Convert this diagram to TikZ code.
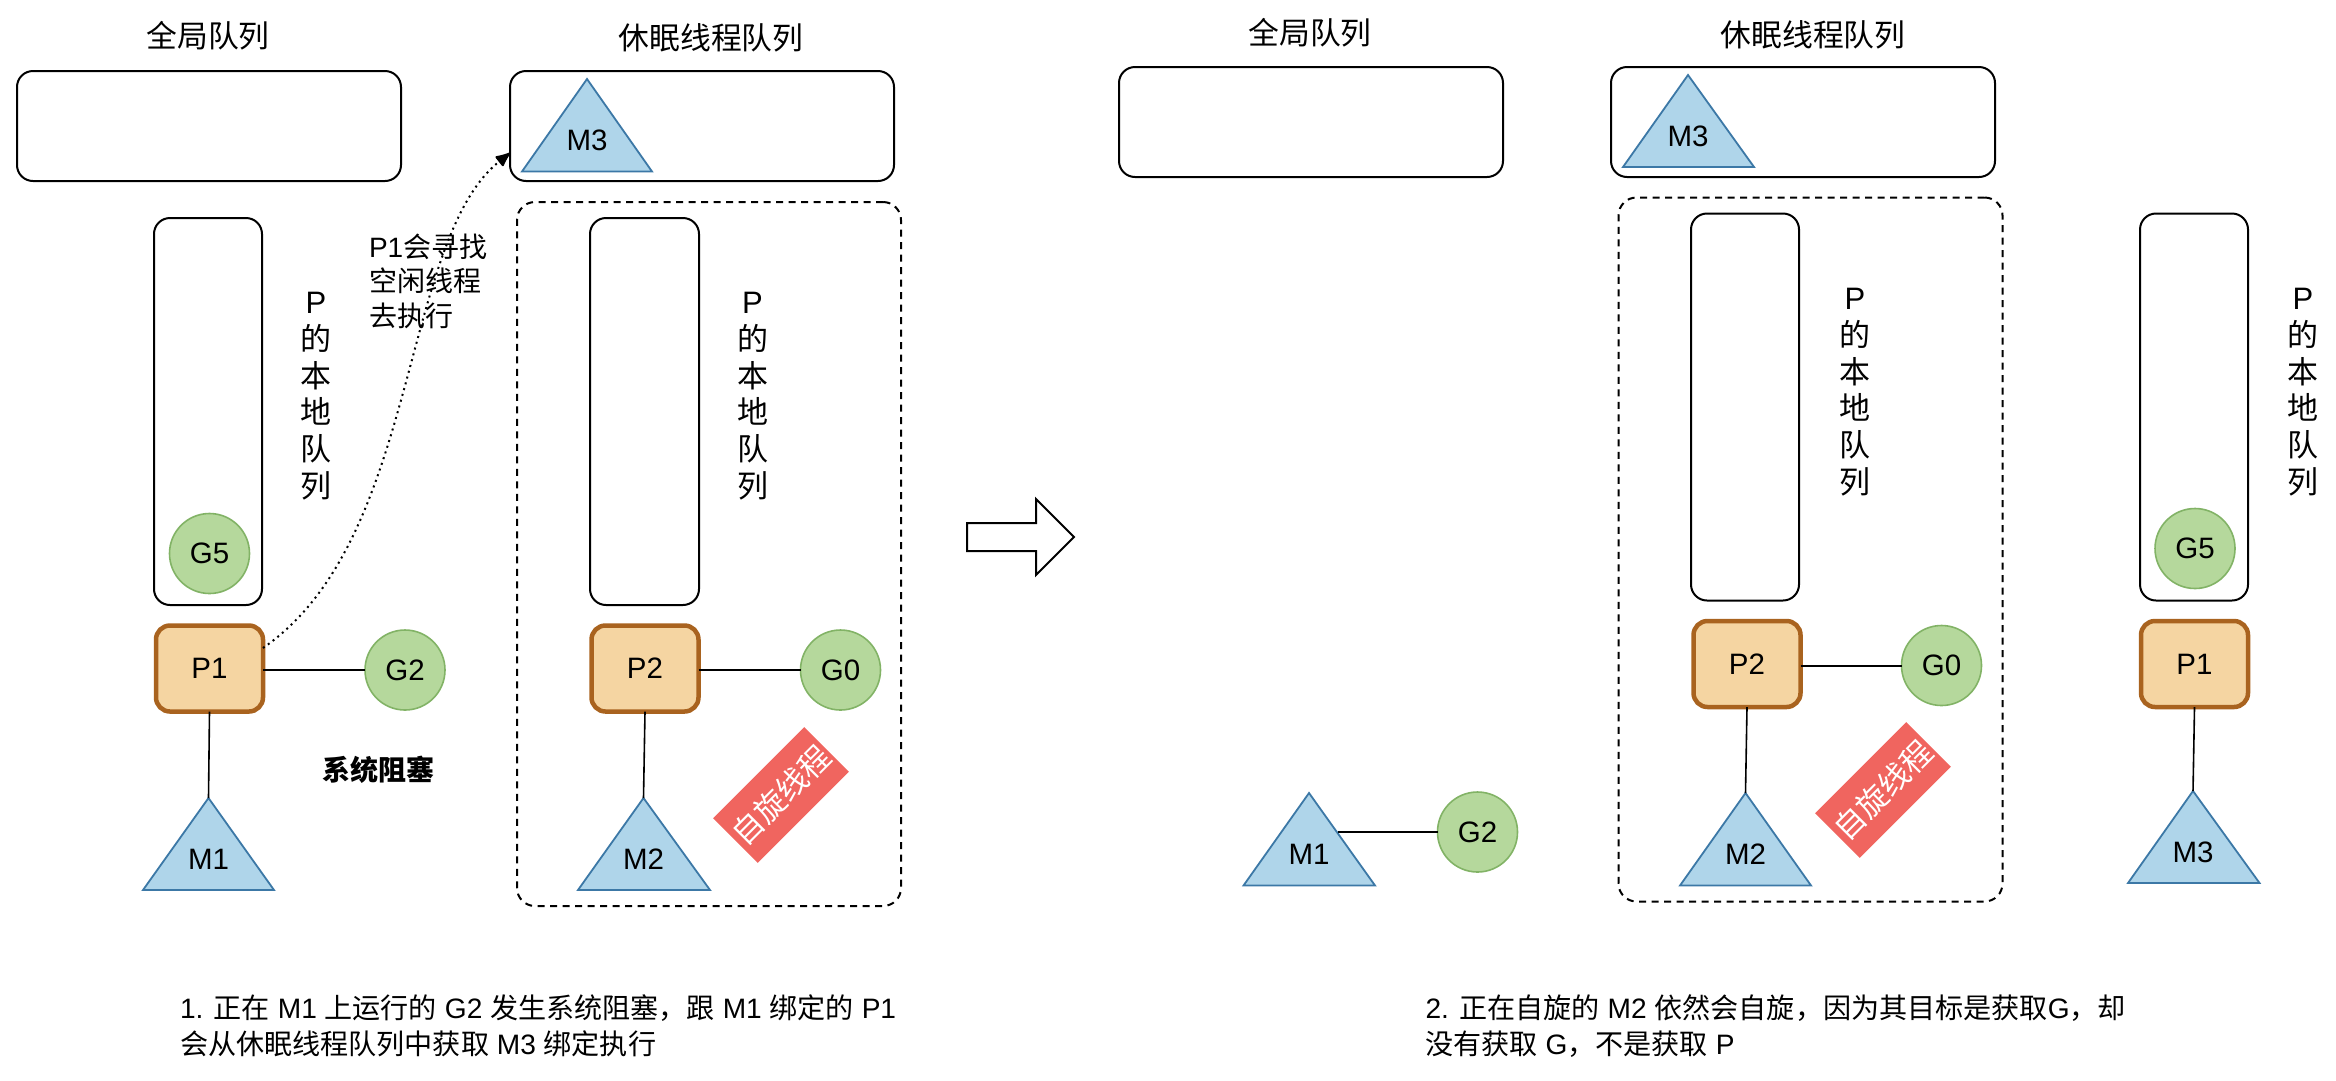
\documentclass[tikz,border=0pt]{standalone}
\usepackage{fontspec}
\setmainfont{Liberation Sans}
\newfontfamily\zhf{Noto Sans CJK SC}
\newcommand{\zh}[1]{{\zhf #1}}
\definecolor{pfill}{HTML}{F5D5A2}
\definecolor{pline}{HTML}{A9631F}
\definecolor{gfill}{HTML}{B5D89C}
\definecolor{gline}{HTML}{82B366}
\definecolor{mfill}{HTML}{AFD5EA}
\definecolor{mline}{HTML}{3C78A6}
\definecolor{redfill}{HTML}{F0655F}
\tikzset{
  x=1pt,y=-1pt,
  every node/.style={font=\fontsize{29.5}{35}\selectfont,inner sep=0pt,outer sep=0pt},
  title/.style={font=\fontsize{30.8}{36}\selectfont},
  qbox/.style={draw=black,line width=2pt,rounded corners=16pt,fill=white},
  dashbox/.style={draw=black,line width=2pt,rounded corners=18pt,dash pattern=on 7pt off 5.5pt},
  pnode/.style={draw=pline,fill=pfill,line width=4.5pt,rounded corners=14pt,minimum width=107pt,minimum height=86pt},
  gnode/.style={ellipse,draw=gline,fill=gfill,line width=1.6pt,minimum width=80pt,minimum height=80pt},
  tri/.style={draw=mline,fill=mfill,line width=1.8pt,line join=miter},
  link/.style={draw=black,line width=2pt},
  thin link/.style={draw=black,line width=1.6pt},
  sidetxt/.style={align=center,font=\fontsize{31}{36.7}\selectfont},
  redtag/.style={fill=redfill,text=white,rotate=45,minimum width=129pt,minimum height=63pt,font=\fontsize{31}{36}\selectfont},
  capt/.style={anchor=west,align=left,font=\fontsize{28.1}{35.5}\selectfont},
}
\usetikzlibrary{shapes.geometric,arrows.meta}
\newcommand{\mtri}[7]{% name, apex x, apex y, left x, right x, base y, label
  \path[tri] (#4,#6) -- (#2,#3) -- (#5,#6) -- cycle;
  \coordinate (#1) at (#2,#3);
  \node (#1lbl) at (#2,{#6-31}) {#7};
}
\begin{document}
\begin{tikzpicture}
\useasboundingbox (0,0) rectangle (2336,1080);
% ---------- left panel
\node[title] (t1) at (208,36) {\zh{全局队列}};
\node[title] (t2) at (711,38) {\zh{休眠线程队列}};
\node[qbox,minimum width=384pt,minimum height=110pt] (glob1) at (209,126) {};
\node[qbox,minimum width=384pt,minimum height=110pt] (sleep1) at (702,126) {};
\mtri{m3a}{587}{79}{522}{652}{171.5}{M3}
\node[dashbox,minimum width=384pt,minimum height=704pt] (dash1) at (709,554) {};
\node[qbox,minimum width=108pt,minimum height=387pt] (qa) at (208,411.5) {};
\node[qbox,minimum width=109pt,minimum height=387pt] (qb) at (644.5,411.5) {};
\node[gnode] (g5a) at (209.5,553.5) {G5};
\node[pnode] (p1a) at (209.5,668.5) {P1};
\node[pnode] (p2a) at (645,668.5) {P2};
\node[gnode] (g2a) at (405,670) {G2};
\node[gnode] (g0a) at (840.5,670) {G0};
\mtri{m1a}{208.5}{798}{143}{274}{890}{M1}
\mtri{m2a}{643.5}{798}{578}{710}{890}{M2}
\draw[link] (p1a.east |- g2a.west) -- (g2a.west);
\draw[link] (p2a.east |- g0a.west) -- (g0a.west);
\draw[thin link] (p1a.south) -- (m1a);
\draw[thin link] (p2a.south) -- (m2a);
\node[sidetxt] (la) at (316,396) {P\\\zh{的}\\\zh{本}\\\zh{地}\\\zh{队}\\\zh{列}};
\node[sidetxt] (lb) at (752.5,396) {P\\\zh{的}\\\zh{本}\\\zh{地}\\\zh{队}\\\zh{列}};
\node[font=\fontsize{28}{34}\selectfont] (blk) at (378,770) {\zhf\bfseries 系统阻塞};
\node[redtag] (ra) at (781,795) {\zh{自旋线程}};
\node[anchor=west,align=left,font=\fontsize{28}{34.5}\selectfont] (find) at (369,281) {P1\zh{会寻找}\\\zh{空闲线程}\\\zh{去执行}};
\draw[black,line width=2pt,dash pattern=on 2pt off 4pt,-{Latex[length=17pt,width=14pt,round=false]}]
  (p1a.21.5) .. controls (420,540) and (400,240) .. (sleep1.188.3);
\node[capt] (ca) at (180,1026) {1. \zh{正在} M1 \zh{上运行的} G2 \zh{发生系统阻塞，跟} M1 \zh{绑定的} P1\\\zh{会从休眠线程队列中获取} M3 \zh{绑定执行}};
% ---------- big arrow
\draw[black,line width=2pt,fill=white,line join=miter] (967,523) -- (1036,523) -- (1036,499) -- (1074,537) -- (1036,575) -- (1036,551) -- (967,551) -- cycle;
% ---------- right panel
\node[title] (t3) at (1310,32.5) {\zh{全局队列}};
\node[title] (t4) at (1813,35) {\zh{休眠线程队列}};
\node[qbox,minimum width=384pt,minimum height=110pt] (glob2) at (1311,122) {};
\node[qbox,minimum width=384pt,minimum height=110pt] (sleep2) at (1803,122) {};
\mtri{m3b}{1688}{75}{1623}{1754}{167}{M3}
\node[dashbox,minimum width=384pt,minimum height=704pt] (dash2) at (1810.5,549.5) {};
\node[qbox,minimum width=108pt,minimum height=387pt] (qc) at (1745,407) {};
\node[qbox,minimum width=108pt,minimum height=387pt] (qd) at (2194,407) {};
\node[gnode] (g5b) at (2195,548.5) {G5};
\node[pnode] (p2b) at (1747,664) {P2};
\node[pnode] (p1b) at (2194.5,664) {P1};
\node[gnode] (g0b) at (1941.5,665.5) {G0};
\node[gnode] (g2b) at (1477.5,832) {G2};
\mtri{m1b}{1309}{793}{1243.5}{1375}{885.5}{M1}
\mtri{m2b}{1745.5}{793}{1680}{1811}{885.5}{M2}
\mtri{m3c}{2193}{791}{2128}{2259.5}{883}{M3}
\coordinate (m1bside) at (1338,832);
\draw[link] (p2b.east |- g0b.west) -- (g0b.west);
\draw[link] (m1bside) -- (g2b.west);
\draw[thin link] (p2b.south) -- (m2b);
\draw[thin link] (p1b.south) -- (m3c);
\node[sidetxt] (lc) at (1855,392) {P\\\zh{的}\\\zh{本}\\\zh{地}\\\zh{队}\\\zh{列}};
\node[sidetxt] (ld) at (2303,392) {P\\\zh{的}\\\zh{本}\\\zh{地}\\\zh{队}\\\zh{列}};
\node[redtag] (rb) at (1883,790) {\zh{自旋线程}};
\node[capt] (cb) at (1425.5,1026) {2. \zh{正在自旋的} M2 \zh{依然会自旋，因为其目标是获取}G\zh{，却}\\\zh{没有获取} G\zh{，不是获取} P};
\end{tikzpicture}
\end{document}
